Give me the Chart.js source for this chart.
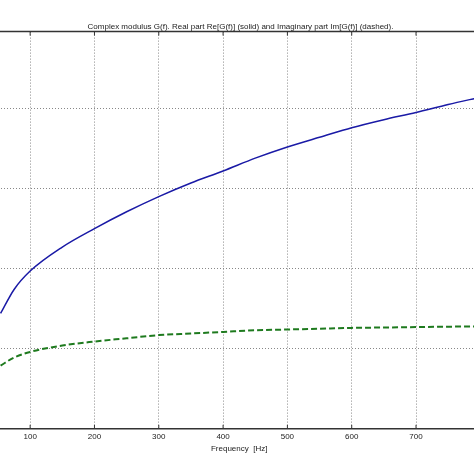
<!DOCTYPE html>
<html><head><meta charset="utf-8">
<script src="https://cdn.jsdelivr.net/npm/chart.js@4/dist/chart.umd.min.js"></script>
<style>
html,body{margin:0;padding:0;background:#fff;overflow:hidden;width:474px;height:474px}
#wrap{position:absolute;left:-10px;top:0;width:500px;height:474px}
</style></head>
<body><div id="wrap"><canvas id="c"></canvas></div>
<script>
const freq   = [54, 75, 100, 150, 200, 250, 300, 350, 400, 450, 500, 550, 600, 650, 700, 750, 800];
const realG  = [1.44, 1.74, 1.97, 2.27, 2.50, 2.71, 2.90, 3.07, 3.22, 3.38, 3.52, 3.64, 3.76, 3.86, 3.95, 4.05, 4.14];
const imagG  = [0.79, 0.89, 0.96, 1.04, 1.09, 1.13, 1.17, 1.19, 1.21, 1.23, 1.24, 1.25, 1.26, 1.265, 1.27, 1.275, 1.28];
const xTicks = [100, 200, 300, 400, 500, 600, 700, 800];

const pts = ys => freq.map((f, i) => ({x: f, y: ys[i]}));
const font = {family: 'Liberation Sans, Arial', size: 8, weight: 'normal'};

// solid frame on top and bottom, like the original axes box
const frame = {
  id: 'frame',
  afterDraw(ch) {
    const a = ch.chartArea, c = ch.ctx;
    c.save();
    c.strokeStyle = '#333'; c.lineWidth = 1.5;
    c.beginPath();
    c.moveTo(a.left, a.top); c.lineTo(a.right, a.top);
    c.moveTo(a.left, a.bottom); c.lineTo(a.right, a.bottom);
    c.stroke();
    c.lineWidth = 1;
    xTicks.forEach(v => {
      const x = ch.scales.x.getPixelForValue(v);
      c.beginPath();
      c.moveTo(x, a.top); c.lineTo(x, a.top + 4);
      c.moveTo(x, a.bottom); c.lineTo(x, a.bottom - 4);
      c.stroke();
    });
    c.restore();
  }
};

new Chart(document.getElementById('c'), {
  type: 'line',
  data: {datasets: [
    {data: pts(realG), borderColor: '#1a1aa6', borderWidth: 1.5, pointRadius: 0, cubicInterpolationMode: 'monotone'},
    {data: pts(imagG), borderColor: '#1e7a1e', borderWidth: 2, borderDash: [6, 3], pointRadius: 0, cubicInterpolationMode: 'monotone'}
  ]},
  options: {
    animation: false, responsive: true, maintainAspectRatio: false,
    layout: {padding: {left: 8, right: 7, top: 0, bottom: 20}},
    plugins: {
      legend: {display: false},
      title: {display: true, text: 'Complex modulus G(f). Real part Re[G(f)] (solid) and Imaginary part Im[G(f)] (dashed).',
        color: '#222', font: font, padding: {top: 22, bottom: 0}}
    },
    scales: {
      x: {type: 'linear', min: 50, max: 800,
        afterBuildTicks: a => { a.ticks = xTicks.map(v => ({value: v})); },
        ticks: {color: '#222', font: font, maxRotation: 0},
        grid: {color: '#888', drawTicks: false},
        border: {display: false, dash: [1, 2]},
        title: {display: true, text: 'Frequency  [Hz]', color: '#222', font: font, padding: 0}},
      y: {min: 0, max: 4.96,
        ticks: {display: false, stepSize: 1},
        grid: {color: '#888', drawTicks: false},
        border: {display: false, dash: [1, 2]}}
    }
  },
  plugins: [frame]
});
</script></body></html>
